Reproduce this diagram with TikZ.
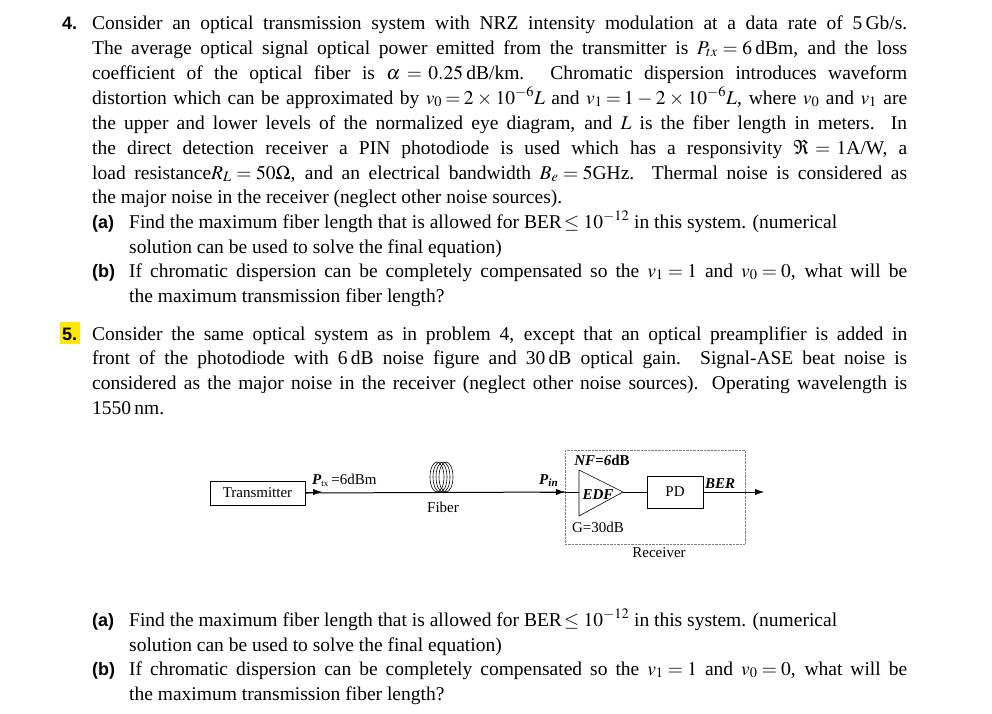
\documentclass[tikz,border=0pt]{standalone}
\usepackage{mathptmx}
\usepackage{fontspec}
\setmainfont{Liberation Serif}
\newfontfamily\numfont{Liberation Sans}
\usetikzlibrary{arrows.meta}
\begin{document}
\begin{tikzpicture}[x=1pt,y=-1pt,
  tl/.style={anchor=base west,inner sep=0pt,font=\fontsize{19.5}{22}\selectfont},
  nl/.style={anchor=base west,inner sep=0pt,font=\fontsize{18}{22}\selectfont\numfont\bfseries},
  dl/.style={inner sep=0pt,font=\fontsize{15}{17}\selectfont},
  box/.style={draw,line width=0.6pt}]
\useasboundingbox (0,0) rectangle (992,713);
\fill[white] (0,0) rectangle (992,713);
\def\W{815pt}
\node[nl] (n4) at (62,29) {4.};
\node[tl] (l1) at (92,29) {\makebox[\W][s]{Consider an optical transmission system with NRZ intensity modulation at a data rate of 5\,Gb/s.}};
\node[tl] (l2) at (92,54) {\makebox[\W][s]{The average optical signal optical power emitted from the transmitter is $P_{tx}\!=\!6$\,dBm, and the loss}};
\node[tl] (l3) at (92,79) {\makebox[\W][s]{coefficient of the optical fiber is $\alpha\!=\!0.25$\,dB/km. Chromatic dispersion introduces waveform}};
\node[tl] (l4) at (92,104) {\makebox[\W][s]{distortion which can be approximated by $v_0\!=\!2\times10^{-6}L$ and $v_1\!=\!1-2\times10^{-6}L$, where $v_0$ and $v_1$ are}};
\node[tl] (l5) at (92,129) {\makebox[\W][s]{the upper and lower levels of the normalized eye diagram, and $L$ is the fiber length in meters. In}};
\node[tl] (l6) at (92,154) {\makebox[\W][s]{the direct detection receiver a PIN photodiode is used which has a responsivity $\Re\!=\!1$A/W, a}};
\node[tl] (l7) at (92,179) {\makebox[\W][s]{load resistance$R_L\!=\!50\Omega$, and an electrical bandwidth $B_e\!=\!5$GHz. Thermal noise is considered as}};
\node[tl] (l8) at (92,203) {the major noise in the receiver (neglect other noise sources).};
\node[nl] (a1) at (92,228) {(a)};
\node[tl] (a1t) at (129,228) {Find the maximum fiber length that is allowed for BER$\,\leq10^{-12}$ in this system. (numerical};
\node[tl] (a1u) at (129,253) {solution can be used to solve the final equation)};
\node[nl] (b1) at (92,277) {(b)};
\node[tl] (b1t) at (129,277) {\makebox[778pt][s]{If chromatic dispersion can be completely compensated so the $v_1\!=\!1$ and $v_0\!=\!0$, what will be}};
\node[tl] (b1u) at (129,302) {the maximum transmission fiber length?};
\fill[yellow!90!orange] (60,322) rectangle (80,344);
\node[nl] (n5) at (62,340) {5.};
\node[tl] (m1) at (92,340) {\makebox[\W][s]{Consider the same optical system as in problem 4, except that an optical preamplifier is added in}};
\node[tl] (m2) at (92,364) {\makebox[\W][s]{front of the photodiode with 6\,dB noise figure and 30\,dB optical gain. Signal-ASE beat noise is}};
\node[tl] (m3) at (92,389) {\makebox[\W][s]{considered as the major noise in the receiver (neglect other noise sources). Operating wavelength is}};
\node[tl] (m4) at (92,414) {1550\,nm.};
% diagram
\draw[densely dotted,gray] (565,450) rectangle (745,544);
\node[box,dl,minimum width=95pt,minimum height=24pt] (tx) at (257.5,493) {Transmitter};
\coordinate (rin) at (565,492);
\coordinate (amp) at (579,492);
\draw[line width=1pt] (tx.east) -- (rin);
\draw[-{Latex[length=9pt,width=6pt]}] (305,492) -- (322,492);
\draw[-{Latex[length=9pt,width=6pt]}] (540,492) -- (rin);
\draw (rin) -- (amp);
\foreach \i in {0,3,6,9}
  \draw[line width=0.6pt] (437+\i,477) ellipse (7pt and 15pt);
\node[dl] (fib) at (443,507) {Fiber};
\node[dl,anchor=base west] (ptx) at (312,484) {\textbf{\textit{P}}\textsubscript{\fontsize{9}{10}\selectfont tx}\,=6dBm};
\node[dl,anchor=base west] (pin) at (539,484) {\textbf{\textit{P}}\textsubscript{\bfseries\itshape in}};
\draw[line width=0.6pt] (579,470) -- (623,492) -- (579,516) -- cycle;
\coordinate (tip) at (623,492);
\node[dl] at (598,495) {\bfseries\itshape EDF};
\node[dl] at (602,460) {\bfseries\itshape NF=6\upshape dB};
\node[dl] at (598,527) {G=30dB};
\node[box,dl,minimum width=56pt,minimum height=32pt] (pd) at (675,492) {PD};
\draw[line width=1pt] (tip) -- (pd.west);
\coordinate (out) at (764,492);
\draw[-{Latex[length=9pt,width=6pt]}] (pd.east) -- (out);
\node[dl,anchor=base west] (ber) at (705,488) {\bfseries\itshape BER};
\node[dl] (rec) at (659,553) {Receiver};
\node[nl] (a2) at (92,626) {(a)};
\node[tl] (a2t) at (129,626) {Find the maximum fiber length that is allowed for BER$\,\leq10^{-12}$ in this system. (numerical};
\node[tl] (a2u) at (129,651) {solution can be used to solve the final equation)};
\node[nl] (b2) at (92,675) {(b)};
\node[tl] (b2t) at (129,675) {\makebox[778pt][s]{If chromatic dispersion can be completely compensated so the $v_1\!=\!1$ and $v_0\!=\!0$, what will be}};
\node[tl] (b2u) at (129,700) {the maximum transmission fiber length?};
\end{tikzpicture}
\end{document}
